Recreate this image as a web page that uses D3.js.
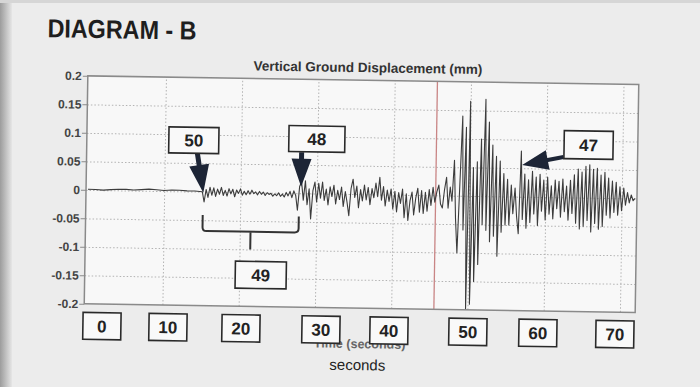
<!DOCTYPE html>
<html>
<head>
<meta charset="utf-8">
<script src="https://cdn.jsdelivr.net/npm/d3@7"></script>
<style>
  html, body { margin: 0; padding: 0; background: #ececec; }
  svg { display: block; font-family: "Liberation Sans", Arial, sans-serif; }
</style>
</head>
<body>
<svg id="chart" width="700" height="387"></svg>
<script>
// y axis (mm)
const yTickValues = [0.2, 0.15, 0.1, 0.05, 0, -0.05, -0.1, -0.15, -0.2];
const yTickLabels = ["0.2", "0.15", "0.1", "0.05", "0", "-0.05", "-0.1", "-0.15", "-0.2"];
// x grid (seconds)
const xGridValues = [10, 20, 30, 40, 50, 60, 70];

// seismogram, sampled per phase
const preEvent = [0.001, 0.001, 0.000, 0.001, 0.002, 0.002, 0.001, 0.002, 0.003, 0.002,
  0.001, 0.002, 0.002, 0.001, 0.001];
const pWave = [0.000, -0.018, 0.004, -0.010, 0.008, -0.006, 0.007, -0.008, 0.005, -0.004,
  0.008, -0.006, 0.003, -0.007, 0.006, -0.003, 0.005, -0.008, 0.004, -0.002,
  0.006, -0.005, 0.002, -0.004, 0.003, -0.003, 0.004, -0.002, 0.001, -0.004,
  0.002, -0.003, 0.001, -0.005, 0.000, -0.003, -0.001, -0.006, -0.002, -0.005,
  0.000, -0.006, -0.002, -0.007, 0.001, -0.005, 0.003, -0.008, 0.004, -0.004];
const sWave = [-0.030, 0.012, 0.020, -0.012, 0.022, -0.020, 0.008, -0.045, 0.005, 0.020,
  -0.015, 0.018, -0.008, 0.020, -0.012, 0.008, -0.020, 0.012, -0.005, 0.015,
  -0.018, 0.006, -0.010, 0.012, -0.022, 0.004, -0.015, -0.038, 0.010, 0.026,
  -0.006, 0.014, -0.024, 0.008, -0.012, 0.016, -0.010, 0.012, -0.018, 0.010,
  -0.006, 0.020, -0.004, 0.030, -0.010, 0.014, -0.020, 0.008, -0.012, 0.010,
  -0.025, 0.006, -0.030, 0.004, -0.015, 0.010, -0.040, 0.002, -0.045, -0.010,
  0.005, -0.035, -0.005, 0.012, -0.030, 0.008, -0.032, 0.005, -0.028, 0.010,
  -0.018, 0.014, -0.012, 0.006, 0.018];
const surfaceWave = [-0.015, -0.022, 0.010, 0.032, -0.022, 0.015, -0.010, 0.062, -0.040, -0.100,
  0.020, 0.140, -0.060, 0.120, -0.200, 0.166, -0.190, 0.050, -0.150, 0.060,
  -0.120, 0.100, -0.050, 0.170, -0.060, 0.130, -0.080, 0.090, -0.070, 0.070,
  -0.105, 0.062, -0.063, 0.040, -0.050, 0.030, -0.050, 0.020, -0.030, 0.015,
  -0.035, -0.065, 0.080, -0.040, 0.040, -0.055, 0.030, -0.045, 0.045, -0.030,
  0.035, -0.050, 0.040, -0.025, 0.030, -0.040, 0.035, -0.030, 0.020, -0.038,
  0.030, -0.020, 0.028, -0.035, 0.032, -0.025, 0.020, -0.040, 0.030, -0.028,
  0.040, -0.045, 0.050, -0.055, 0.045, -0.050, 0.055, -0.040, 0.058, -0.060,
  0.050, -0.045, 0.052, -0.055, 0.040, -0.050, 0.045, -0.030, 0.035, -0.035,
  0.030, -0.025, 0.028, -0.030, 0.020, -0.022, 0.018, -0.012, 0.010, -0.008,
  0.006, -0.004, 0.000];
const phases = [
  { start: 0, step: 1, values: preEvent },
  { start: 15, step: 0.25, values: pWave },
  { start: 27.5, step: 0.25, values: sWave },
  { start: 46.25, step: 0.25, values: surfaceWave }
];
const markerTime = 45.6;

// annotations (seconds, mm)
const calloutLabels = ["50", "48", "49", "47"];
const calloutAt = [[13.78, 0.090], [29.91, 0.0956], [22.83, -0.1446], [65.55, 0.0925]];
const calloutSize = [[50, 26], [56, 26], [51, 27], [49, 28]];
const arrowFrom = [[14.27, 0.0677], [27.94, 0.072], [62.3, 0.0709]];
const arrowTo = [[15.13, -0.002], [27.94, 0.0114], [56.88, 0.0556]];
const bracketSpan = [15.1, 27.7];
const bracketLevels = [-0.041, -0.069, -0.100];

// time labels under the plot
const timeBoxLabels = ["0", "10", "20", "30", "40", "50", "60", "70"];
const timeBoxAt = [2.11, 10.77, 20.34, 30.83, 39.75, 50.1, 59.28, 69.38];

const svg = d3.select('#chart');
const W = 700, H = 387;

// photo backdrop
const defs = svg.append('defs');
const lg = defs.append('linearGradient').attr('id', 'edge').attr('x1', 0).attr('x2', 1);
lg.append('stop').attr('offset', 0).attr('stop-color', '#9c9c9c');
lg.append('stop').attr('offset', 1).attr('stop-color', '#e6e6e6');
svg.append('rect').attr('width', W).attr('height', H).attr('fill', '#ececec');
svg.append('rect').attr('width', 12).attr('height', H).attr('fill', 'url(#edge)');
svg.append('rect').attr('width', W).attr('height', 3).attr('fill', '#d6d6d6');

const x = d3.scaleLinear().domain([-0.25, 72]).range([86, 637]);
const y = d3.scaleLinear().domain([-0.2, 0.2]).range([308, 80]);
const [x0, x1] = x.range();
const [yb, yt] = y.range();

const g = svg.append('g').attr('transform', 'rotate(0.9 350 194)');

g.append('text').attr('x', 45).attr('y', 42)
  .attr('font-size', 26).attr('font-weight', 'bold').attr('fill', '#1e1e1e')
  .attr('textLength', 149).attr('lengthAdjust', 'spacingAndGlyphs')
  .text('DIAGRAM - B');

g.append('text').attr('x', 366).attr('y', 72).attr('text-anchor', 'middle')
  .attr('font-size', 13.5).attr('font-weight', 'bold').attr('fill', '#333')
  .text('Vertical Ground Displacement (mm)');

g.append('rect').attr('x', x0).attr('y', yt).attr('width', x1 - x0).attr('height', yb - yt)
  .attr('fill', '#f8f8f8');

// grid
const gx = g.append('g').attr('transform', `translate(0,${yb})`)
  .call(d3.axisBottom(x).tickValues(xGridValues).tickSize(-(yb - yt)).tickFormat(''));
gx.select('.domain').remove();
gx.selectAll('line').attr('stroke', '#b3b3b3').attr('stroke-dasharray', '1.5 2');

const gyGrid = g.append('g').attr('transform', `translate(${x0},0)`)
  .call(d3.axisRight(y).tickValues(yTickValues.slice(1, -1)).tickSize(x1 - x0).tickFormat(''));
gyGrid.select('.domain').remove();
gyGrid.selectAll('line').attr('stroke', '#b3b3b3').attr('stroke-dasharray', '1.5 2');

const gy = g.append('g').attr('transform', `translate(${x0},0)`)
  .call(d3.axisLeft(y).tickValues(yTickValues).tickSize(5).tickPadding(1)
    .tickFormat((d, i) => yTickLabels[i]));
gy.select('.domain').remove();
gy.selectAll('line').attr('stroke', '#8a8a8a');
gy.selectAll('text').attr('font-size', 12).attr('font-weight', 'bold').attr('fill', '#444')
  .attr('font-family', '"Liberation Sans", Arial, sans-serif');

// marker line
g.append('line').attr('x1', x(markerTime)).attr('x2', x(markerTime))
  .attr('y1', yt).attr('y2', yb).attr('stroke', '#c98585').attr('stroke-width', 1.3);

// trace
defs.append('clipPath').attr('id', 'plotclip').append('rect')
  .attr('x', x0).attr('y', yt).attr('width', x1 - x0).attr('height', yb - yt);
const trace = phases.flatMap(p => p.values.map((v, i) => ({ t: p.start + i * p.step, v })));
const line = d3.line().x(d => x(d.t)).y(d => y(d.v));
g.append('path').datum(trace).attr('clip-path', 'url(#plotclip)')
  .attr('fill', 'none').attr('stroke', '#3c3c3c').attr('stroke-width', 1.1)
  .attr('stroke-linejoin', 'round').attr('d', line);

g.append('rect').attr('x', x0).attr('y', yt).attr('width', x1 - x0).attr('height', yb - yt)
  .attr('fill', 'none').attr('stroke', '#8a8a8a').attr('stroke-width', 1.5);

// axis title, partly hidden by the label boxes (as in the original)
g.append('text').attr('x', 362).attr('y', 348).attr('text-anchor', 'middle')
  .attr('font-size', 12.5).attr('font-weight', 'bold').attr('fill', '#666')
  .text('Time (seconds)');

g.append('text').attr('x', 360).attr('y', 370).attr('text-anchor', 'middle')
  .attr('font-size', 15).attr('fill', '#222')
  .text('seconds');

function drawBox(cx, cy, w, h, label, fs) {
  g.append('rect').attr('x', cx - w / 2).attr('y', cy - h / 2).attr('width', w).attr('height', h)
    .attr('fill', '#f9f9f9').attr('stroke', '#2a2a2a').attr('stroke-width', 1.6);
  g.append('text').attr('x', cx).attr('y', cy + fs * 0.36).attr('text-anchor', 'middle')
    .attr('font-size', fs).attr('font-weight', 'bold').attr('fill', '#222').text(label);
}

timeBoxLabels.forEach((lab, i) => drawBox(x(timeBoxAt[i]), yb + 22, 38, 27, lab, 17));

// bracket
const [bl, br] = bracketSpan.map(x);
const [bTop, bBot, bStem] = bracketLevels.map(y);
const bm = (bl + br) / 2, r = 4;
g.append('path')
  .attr('d', `M${bl},${bTop}V${bBot - r}Q${bl},${bBot} ${bl + r},${bBot}H${br - r}` +
    `Q${br},${bBot} ${br},${bBot - r}V${bTop}M${bm},${bBot}V${bStem}`)
  .attr('fill', 'none').attr('stroke', '#333').attr('stroke-width', 2);

// arrows
function arrowPoints(ax, ay, bx, by, shaft, headW, headL) {
  const dx = bx - ax, dy = by - ay, L = Math.hypot(dx, dy);
  const ux = dx / L, uy = dy / L, px = -uy, py = ux;
  const hx = bx - ux * headL, hy = by - uy * headL;
  return [
    [ax + px * shaft / 2, ay + py * shaft / 2], [hx + px * shaft / 2, hy + py * shaft / 2],
    [hx + px * headW / 2, hy + py * headW / 2], [bx, by],
    [hx - px * headW / 2, hy - py * headW / 2], [hx - px * shaft / 2, hy - py * shaft / 2],
    [ax - px * shaft / 2, ay - py * shaft / 2]
  ];
}
arrowFrom.forEach((a, i) => {
  const pts = arrowPoints(x(a[0]), y(a[1]), x(arrowTo[i][0]), y(arrowTo[i][1]),
    i === 2 ? 4 : 5, 20, i === 2 ? 26 : 28);
  g.append('polygon').attr('points', pts.map(p => p.join(',')).join(' '))
    .attr('fill', '#1d2536');
});

calloutLabels.forEach((lab, i) =>
  drawBox(x(calloutAt[i][0]), y(calloutAt[i][1]), calloutSize[i][0], calloutSize[i][1], lab, 17));
</script>
</body>
</html>
